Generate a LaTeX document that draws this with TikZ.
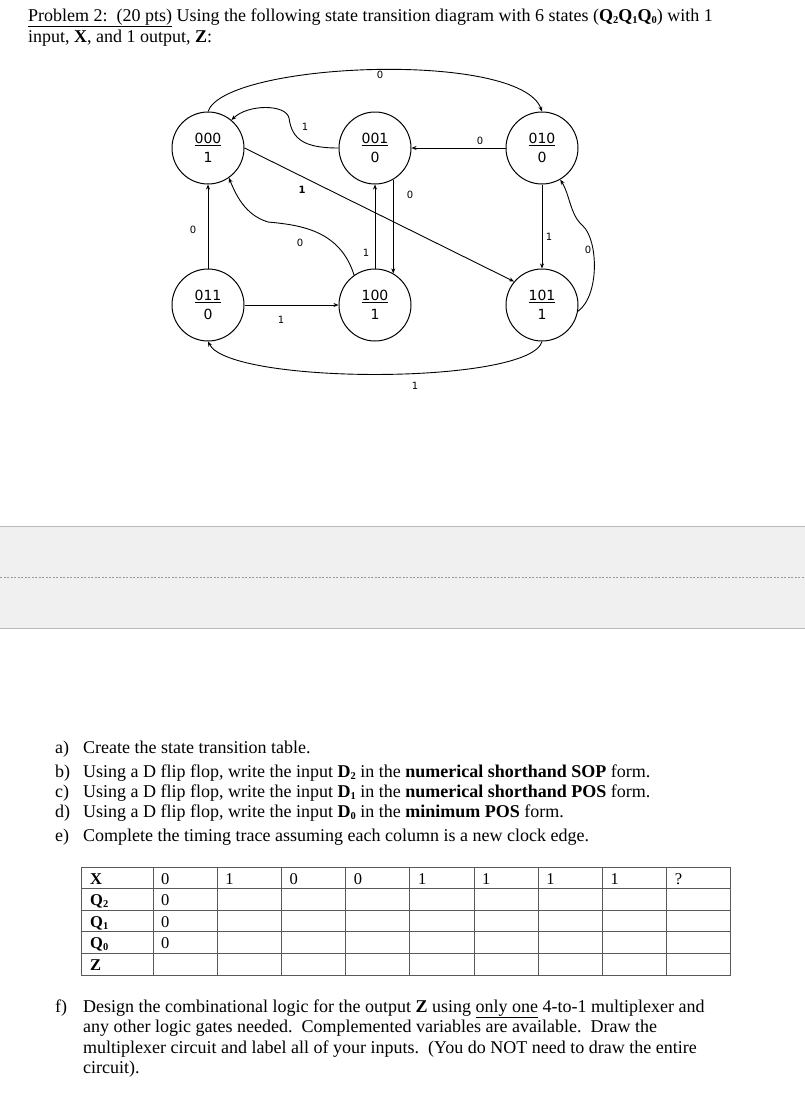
\documentclass[tikz,border=0pt]{standalone}
\usepackage{fontspec}
\setmainfont{Liberation Serif}
\newfontfamily\dsans{DejaVu Sans}
\usetikzlibrary{arrows.meta}
\tikzset{
  st/.style={circle,draw,line width=1pt,minimum size=72pt,inner sep=0pt,font=\dsans\fontsize{14}{17}\selectfont,align=center},
  tr/.style={line width=0.9pt,-{Stealth[length=5pt,width=4pt]}},
  lb/.style={font=\dsans\fontsize{10}{11}\selectfont,inner sep=1pt},
  tx/.style={anchor=base west,inner sep=0pt,font=\fontsize{18}{20}\selectfont},
  cell/.style={anchor=base west,inner sep=0pt,font=\fontsize{16.5}{18}\selectfont}
}
\newcommand{\sub}[1]{\raisebox{-0.25ex}{\fontsize{10.5}{11}\selectfont #1}}
\begin{document}
\begin{tikzpicture}[x=1pt,y=-1pt]
\useasboundingbox[fill=white] (0,0) rectangle (805,1106);
% title
\node[tx] (t1) at (28,21) {\underline{Problem 2:\ \ (20 pts)} Using the following state transition diagram with 6 states (\textbf{Q\sub{2}Q\sub{1}Q\sub{0}}) with 1};
\node[tx] (t2) at (28,42) {input, \textbf{X}, and 1 output, \textbf{Z}:};
% states
\node[st] (s0) at (208,148) {\underline{000}\\[2pt]1};
\node[st] (s1) at (375,148) {\underline{001}\\[2pt]0};
\node[st] (s2) at (542,148) {\underline{010}\\[2pt]0};
\node[st] (s3) at (208,305) {\underline{011}\\[2pt]0};
\node[st] (s4) at (375,305) {\underline{100}\\[2pt]1};
\node[st] (s5) at (542,305) {\underline{101}\\[2pt]1};
% transitions
\draw[tr] (s0.north) .. controls (225,62) and (520,50) .. (s2.north);
\node[lb] (l1) at (380,75) {0};
\draw[tr] (s1.west) .. controls (305,148) and (292,140) .. (289,118) .. controls (286,104) and (248,104) .. (s0.50);
\node[lb] (l2) at (305,127) {1};
\draw[tr] (s2.west) -- (s1.east);
\node[lb] (l3) at (480,141) {0};
\draw[tr] (s0.east) -- (s5.140);
\node[lb] (l4) at (302,190) {\textbf{1}};
\draw[tr] (s1.-60) -- (s4.60);
\node[lb] (l5) at (410,195) {0};
\draw[tr] (s4.north) -- (s1.south);
\node[lb] (l6) at (366,253) {1};
\draw[tr] (s4.125) .. controls (340,230) and (300,225) .. (268,222) .. controls (245,215) and (236,195) .. (s0.-55);
\node[lb] (l7) at (300,243) {0};
\draw[tr] (s3.north) -- (s0.south);
\node[lb] (l8) at (193,230) {0};
\draw[tr] (s3.east) -- (s4.west);
\node[lb] (l9) at (281,320) {1};
\draw[tr] (s2.south) -- (s5.north);
\node[lb] (l10) at (549,237) {1};
\draw[tr] (s5.-10) .. controls (600,295) and (598,240) .. (583,226) .. controls (570,215) and (570,195) .. (s2.-60);
\node[lb] (l11) at (588,250) {0};
\draw[tr] (s5.south) .. controls (530,385) and (230,385) .. (s3.south);
\node[lb] (l12) at (415,386) {1};
% band
\fill[gray!12] (0,526) rectangle (805,628);
\draw[gray!55,line width=0.8pt] (0,526) -- (805,526);
\draw[gray!55,line width=0.8pt] (0,628) -- (805,628);
\draw[gray!80,dashed,dash pattern=on 2pt off 1.5pt,line width=0.8pt] (0,577) -- (805,577);
% items
\node[tx] (a) at (55,753) {a)}; \node[tx] (a2) at (83,753) {Create the state transition table.};
\node[tx] (b) at (55,777) {b)}; \node[tx] (b2) at (83,777) {Using a D flip flop, write the input \textbf{D\sub{2}} in the \textbf{numerical shorthand SOP} form.};
\node[tx] (c) at (55,797) {c)}; \node[tx] (c2) at (83,797) {Using a D flip flop, write the input \textbf{D\sub{1}} in the \textbf{numerical shorthand POS} form.};
\node[tx] (d) at (55,817) {d)}; \node[tx] (d2) at (83,817) {Using a D flip flop, write the input \textbf{D\sub{0}} in the \textbf{minimum POS} form.};
\node[tx] (e) at (55,841) {e)}; \node[tx] (e2) at (83,841) {Complete the timing trace assuming each column is a new clock edge.};
% table
\foreach \i in {0,...,5} {\draw[line width=0.7pt,gray!70!black] (81,{867+\i*21.6}) -- (731,{867+\i*21.6});}
\draw[line width=0.7pt,gray!70!black] (81,867) -- (81,975);
\foreach \j in {0,...,9} {\draw[line width=0.7pt,gray!70!black] ({153+\j*64.2},867) -- ({153+\j*64.2},975);}
\node[cell] (h1) at (90,884) {\textbf{X}};
\node[cell] (h2) at (90,905.6) {\textbf{Q\sub{2}}};
\node[cell] (h3) at (90,927.2) {\textbf{Q\sub{1}}};
\node[cell] (h4) at (90,948.8) {\textbf{Q\sub{0}}};
\node[cell] (h5) at (90,970.4) {\textbf{Z}};
\foreach \v [count=\k from 0] in {0,1,0,0,1,1,1,1,?} {\node[cell] at ({161+\k*64.2},884) {\v};}
\node[cell] (q2) at (161,905.6) {0};
\node[cell] (q1) at (161,927.2) {0};
\node[cell] (q0) at (161,948.8) {0};
% f
\node[tx] (f1) at (55,1012) {f)}; \node[tx] (f1b) at (83,1012) {Design the combinational logic for the output \textbf{Z} using \underline{only one} 4-to-1 multiplexer and};
\node[tx] (f2) at (83,1032) {any other logic gates needed.\ \ Complemented variables are available.\ \ Draw the};
\node[tx] (f3) at (83,1053) {multiplexer circuit and label all of your inputs.\ \ (You do NOT need to draw the entire};
\node[tx] (f4) at (83,1073) {circuit).};
\end{tikzpicture}
\end{document}
